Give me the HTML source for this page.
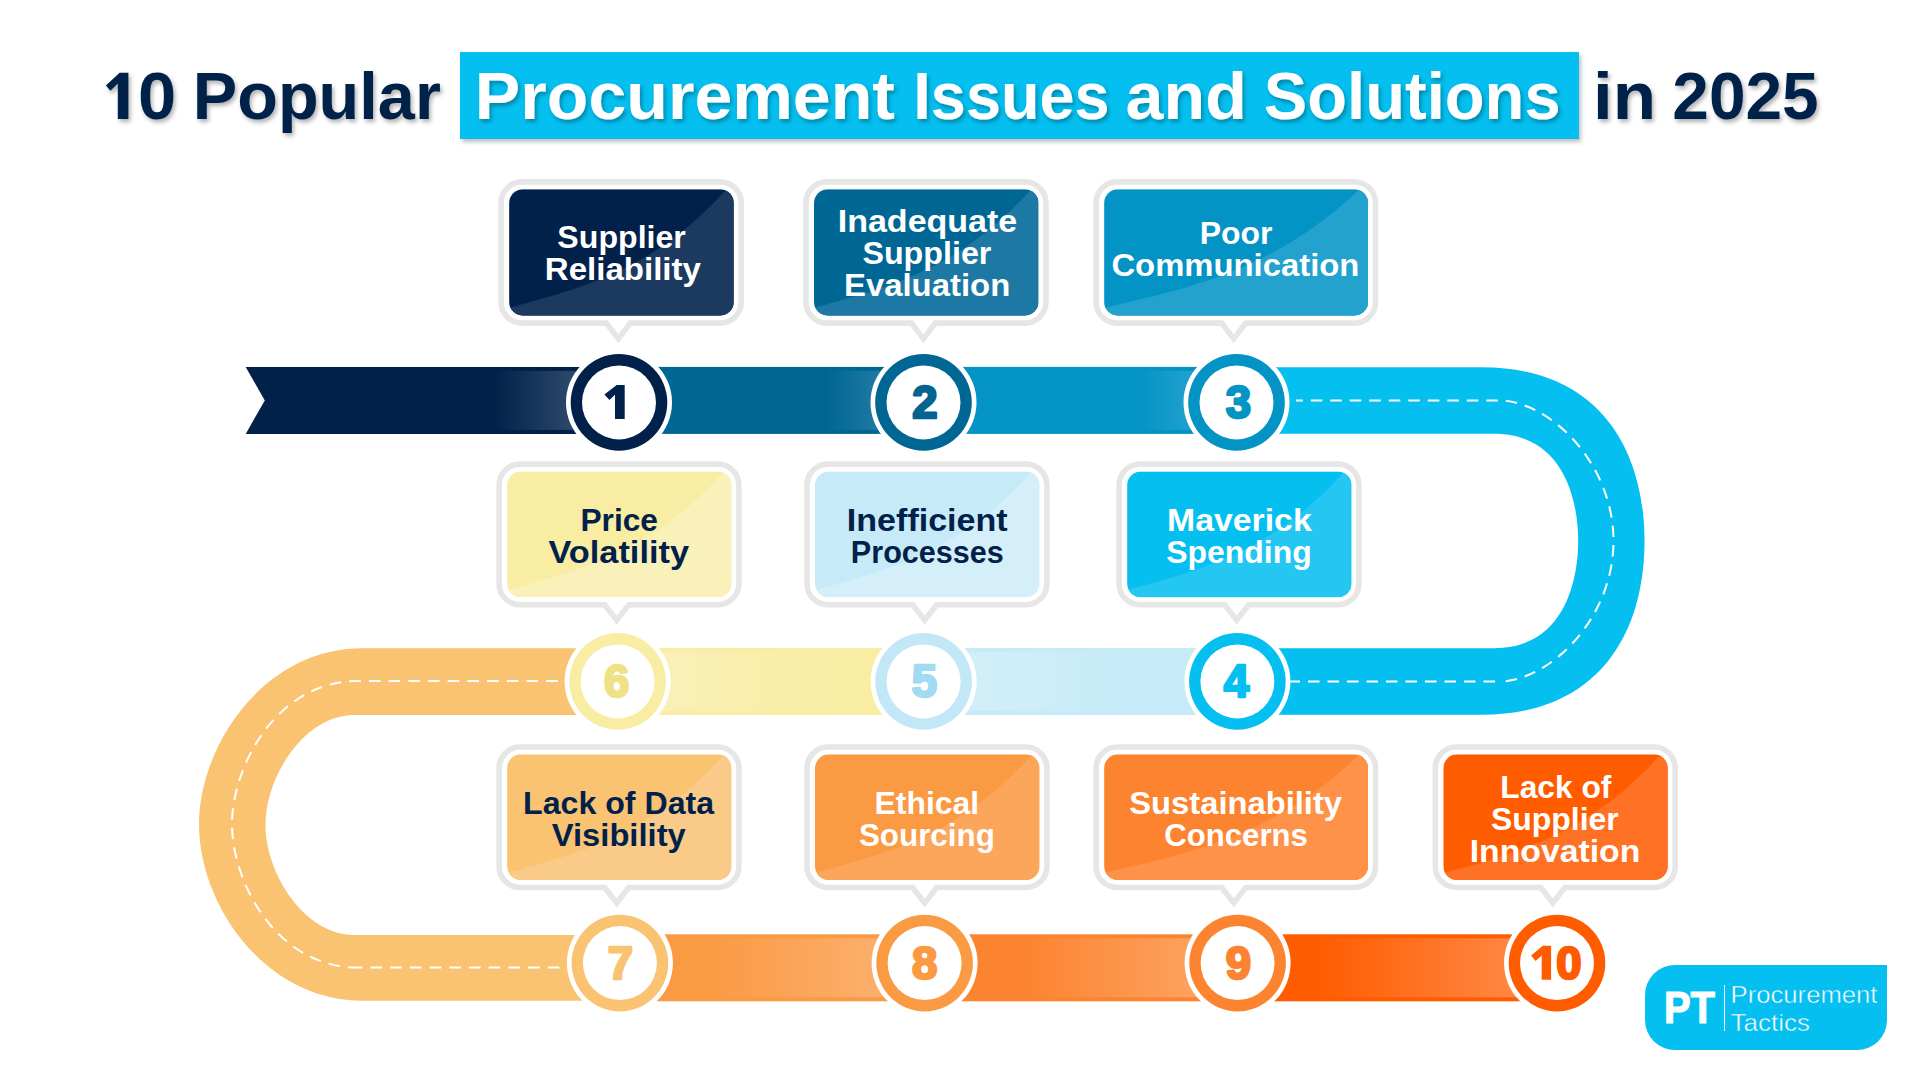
<!DOCTYPE html>
<html><head><meta charset="utf-8"><style>
html,body{margin:0;padding:0;width:1920px;height:1080px;overflow:hidden;background:#fff}
</style></head><body>
<div style="position:relative;width:1920px;height:1080px">
<svg width="1920" height="1080" viewBox="0 0 1920 1080" style="position:absolute;left:0;top:0;font-family:'Liberation Sans', sans-serif"><defs><linearGradient id="g1" x1="494" x2="570" y1="0" y2="0" gradientUnits="userSpaceOnUse"><stop offset="0" stop-color="#02214a"/><stop offset="1" stop-color="#2b4869"/></linearGradient><linearGradient id="g2" x1="827" x2="880" y1="0" y2="0" gradientUnits="userSpaceOnUse"><stop offset="0" stop-color="#006794"/><stop offset="1" stop-color="#2179a3"/></linearGradient><linearGradient id="g3" x1="1138" x2="1195" y1="0" y2="0" gradientUnits="userSpaceOnUse"><stop offset="0" stop-color="#0393c4"/><stop offset="1" stop-color="#22a2cf"/></linearGradient><linearGradient id="g6" x1="840" x2="660" y1="0" y2="0" gradientUnits="userSpaceOnUse"><stop offset="0" stop-color="#f9eca3"/><stop offset="1" stop-color="#faf0b8"/></linearGradient><linearGradient id="g5" x1="1135" x2="970" y1="0" y2="0" gradientUnits="userSpaceOnUse"><stop offset="0" stop-color="#c6eaf8"/><stop offset="1" stop-color="#d2eff9"/></linearGradient><linearGradient id="g8" x1="707" x2="880" y1="0" y2="0" gradientUnits="userSpaceOnUse"><stop offset="0" stop-color="#fa9a43"/><stop offset="1" stop-color="#fcaf6c"/></linearGradient><linearGradient id="g9" x1="1020" x2="1192" y1="0" y2="0" gradientUnits="userSpaceOnUse"><stop offset="0" stop-color="#fc832f"/><stop offset="1" stop-color="#fda15e"/></linearGradient><linearGradient id="g10" x1="1317" x2="1512" y1="0" y2="0" gradientUnits="userSpaceOnUse"><stop offset="0" stop-color="#ff5c00"/><stop offset="1" stop-color="#ff8642"/></linearGradient><clipPath id="cl1"><rect x="509.1" y="189.2" width="224.69999999999993" height="126.5" rx="14"/></clipPath><clipPath id="cl2"><rect x="814.0" y="189.2" width="224.5" height="126.5" rx="14"/></clipPath><clipPath id="cl3"><rect x="1104.1" y="189.2" width="264.0" height="126.5" rx="14"/></clipPath><clipPath id="cl6"><rect x="507.1" y="471.40000000000003" width="224.39999999999998" height="125.89999999999992" rx="14"/></clipPath><clipPath id="cl5"><rect x="815.0" y="471.40000000000003" width="224.5" height="125.89999999999992" rx="14"/></clipPath><clipPath id="cl4"><rect x="1127.1" y="471.40000000000003" width="224.4000000000001" height="125.89999999999992" rx="14"/></clipPath><clipPath id="cl7"><rect x="507.1" y="754.3000000000001" width="224.39999999999998" height="125.79999999999984" rx="14"/></clipPath><clipPath id="cl8"><rect x="815.0" y="754.3000000000001" width="224.5" height="125.79999999999984" rx="14"/></clipPath><clipPath id="cl9"><rect x="1104.1" y="754.3000000000001" width="264.0" height="125.79999999999984" rx="14"/></clipPath><clipPath id="cl10"><rect x="1443.3" y="754.3000000000001" width="224.5" height="125.79999999999984" rx="14"/></clipPath></defs><g><polygon points="245.7,366.9 650,366.9 650,433.9 245.7,433.9 264.8,400.4" fill="#02214a"/><rect x="640" y="366.9" width="300" height="67.0" fill="#006794"/><rect x="940" y="366.9" width="300" height="67.0" fill="#0393c4"/><path d="M1230,367.2 H1482 C1595.75,367.2 1644.5,445.4 1644.5,541 C1644.5,636.6 1595.75,714.8 1482,714.8 H1230 V648.2 H1494 C1565.6,648.2 1578.2,578.5 1578.2,541 C1578.2,503.5 1565.6,433.8 1494,433.8 H1230 Z" fill="#04bff0"/><rect x="920" y="648.0" width="320" height="67.0" fill="#c6eaf8"/><rect x="610" y="648.0" width="320" height="67.0" fill="#f9eca3"/><path d="M620,648.3 H362 C264.2,648.3 199,745.2 199,824.5 C199,903.8 264.2,1000.7 362,1000.7 H625 V935 H354 C305.3,935 265.5,874.5 265.5,825 C265.5,775.5 305.3,715 354,715 H620 Z" fill="#f9c372"/><rect x="620" y="934.3" width="310" height="67.0" fill="#fa9a43"/><rect x="920" y="934.3" width="320" height="67.0" fill="#fc832f"/><rect x="1230" y="934.3" width="330" height="67.0" fill="#ff5c00"/><rect x="494" y="370.9" width="125" height="59.0" fill="url(#g1)"/><rect x="827" y="370.9" width="96" height="59.0" fill="url(#g2)"/><rect x="1138" y="370.9" width="98" height="59.0" fill="url(#g3)"/><rect x="617" y="652.0" width="223" height="59.0" fill="url(#g6)"/><rect x="923" y="652.0" width="212" height="59.0" fill="url(#g5)"/><rect x="707" y="938.3" width="217" height="59.0" fill="url(#g8)"/><rect x="1020" y="938.3" width="217" height="59.0" fill="url(#g9)"/><rect x="1317" y="938.3" width="240" height="59.0" fill="url(#g10)"/><path d="M1296,400.4 H1498 C1550,400.4 1613.5,463.7 1613.5,541 C1613.5,618.3 1550,681.6 1498,681.6" fill="none" stroke="#fff" stroke-width="2" stroke-dasharray="11.5 8.0" stroke-dashoffset="4.7"/><path d="M1290.3,681.6 H1498" fill="none" stroke="#fff" stroke-width="2" stroke-dasharray="11.5 8.0" stroke-dashoffset="1.8"/><path d="M557.8,681 H358 C276.1,681 232,767 232,824.3 C232,881.6 276.1,967.6 358,967.6" fill="none" stroke="#fff" stroke-width="2" stroke-dasharray="11.6 8.1"/><path d="M559.4,967.6 H358" fill="none" stroke="#fff" stroke-width="2" stroke-dasharray="11.6 8.1"/></g><circle cx="619" cy="402.4" r="53" fill="#fff"/><circle cx="619" cy="402.4" r="48.3" fill="#02214a"/><circle cx="619" cy="402.4" r="37" fill="#fff"/><circle cx="923.5" cy="402.4" r="53" fill="#fff"/><circle cx="923.5" cy="402.4" r="48.3" fill="#006794"/><circle cx="923.5" cy="402.4" r="37" fill="#fff"/><circle cx="1236.5" cy="402.4" r="53" fill="#fff"/><circle cx="1236.5" cy="402.4" r="48.3" fill="#0393c4"/><circle cx="1236.5" cy="402.4" r="37" fill="#fff"/><circle cx="1237.4" cy="681.4" r="53" fill="#fff"/><circle cx="1237.4" cy="681.4" r="48.3" fill="#04bff0"/><circle cx="1237.4" cy="681.4" r="37" fill="#fff"/><circle cx="923.6" cy="681.4" r="53" fill="#fff"/><circle cx="923.6" cy="681.4" r="48.3" fill="#c2e8f8"/><circle cx="923.6" cy="681.4" r="37" fill="#fff"/><circle cx="617.6" cy="681.4" r="53" fill="#fff"/><circle cx="617.6" cy="681.4" r="48.3" fill="#f9eca3"/><circle cx="617.6" cy="681.4" r="37" fill="#fff"/><circle cx="619.9" cy="963.1" r="53" fill="#fff"/><circle cx="619.9" cy="963.1" r="48.3" fill="#f9c372"/><circle cx="619.9" cy="963.1" r="37" fill="#fff"/><circle cx="924.6" cy="963.1" r="53" fill="#fff"/><circle cx="924.6" cy="963.1" r="48.3" fill="#fa9a43"/><circle cx="924.6" cy="963.1" r="37" fill="#fff"/><circle cx="1237.6" cy="963.1" r="53" fill="#fff"/><circle cx="1237.6" cy="963.1" r="48.3" fill="#fc832f"/><circle cx="1237.6" cy="963.1" r="37" fill="#fff"/><circle cx="1557" cy="963.1" r="53" fill="#fff"/><circle cx="1557" cy="963.1" r="48.3" fill="#ff5c00"/><circle cx="1557" cy="963.1" r="37" fill="#fff"/><path d="M522.1,181.9 H720.2 A21,21 0 0 1 741.2,202.9 V302.09999999999997 A21,21 0 0 1 720.2,323.09999999999997 H630.3 L618.3,338.59999999999997 L606.3,323.09999999999997 H522.1 A21,21 0 0 1 501.1,302.09999999999997 V202.9 A21,21 0 0 1 522.1,181.9 Z" fill="#fff" stroke="#e6e6e6" stroke-width="5.6" stroke-miterlimit="10"/><g clip-path="url(#cl1)"><rect x="509.1" y="189.2" width="224.69999999999993" height="126.5" fill="#02214a"/><path d="M509.1,307.95 C584.0,287.2 658.9,269.4 733.8,180.8 V315.7 H509.1 Z" fill="#1c3a5f"/></g><text x="621.6" y="247.9" text-anchor="middle" font-size="32" font-weight="bold" fill="#fff" textLength="128.52" lengthAdjust="spacingAndGlyphs">Supplier</text><text x="622.85" y="279.6" text-anchor="middle" font-size="32" font-weight="bold" fill="#fff" textLength="156.16" lengthAdjust="spacingAndGlyphs">Reliability</text><path d="M827.0,181.9 H1024.9 A21,21 0 0 1 1045.9,202.9 V302.09999999999997 A21,21 0 0 1 1024.9,323.09999999999997 H935.4 L923.4,338.59999999999997 L911.4,323.09999999999997 H827.0 A21,21 0 0 1 806.0,302.09999999999997 V202.9 A21,21 0 0 1 827.0,181.9 Z" fill="#fff" stroke="#e6e6e6" stroke-width="5.6" stroke-miterlimit="10"/><g clip-path="url(#cl2)"><rect x="814.0" y="189.2" width="224.5" height="126.5" fill="#006794"/><path d="M814.0,307.95 C888.8,287.2 963.7,269.4 1038.5,180.8 V315.7 H814.0 Z" fill="#1d79a3"/></g><text x="927.5" y="231.7" text-anchor="middle" font-size="32" font-weight="bold" fill="#fff" textLength="179.58" lengthAdjust="spacingAndGlyphs">Inadequate</text><text x="926.9" y="264.2" text-anchor="middle" font-size="32" font-weight="bold" fill="#fff" textLength="128.93" lengthAdjust="spacingAndGlyphs">Supplier</text><text x="927.1" y="295.8" text-anchor="middle" font-size="32" font-weight="bold" fill="#fff" textLength="166.23" lengthAdjust="spacingAndGlyphs">Evaluation</text><path d="M1117.1,181.9 H1354.5 A21,21 0 0 1 1375.5,202.9 V302.09999999999997 A21,21 0 0 1 1354.5,323.09999999999997 H1245.7 L1233.7,338.59999999999997 L1221.7,323.09999999999997 H1117.1 A21,21 0 0 1 1096.1,302.09999999999997 V202.9 A21,21 0 0 1 1117.1,181.9 Z" fill="#fff" stroke="#e6e6e6" stroke-width="5.6" stroke-miterlimit="10"/><g clip-path="url(#cl3)"><rect x="1104.1" y="189.2" width="264.0" height="126.5" fill="#0393c4"/><path d="M1104.1,307.95 C1192.1,287.2 1280.1,269.4 1368.1,180.8 V315.7 H1104.1 Z" fill="#22a2cd"/></g><text x="1236.15" y="243.7" text-anchor="middle" font-size="32" font-weight="bold" fill="#fff" textLength="72.72" lengthAdjust="spacingAndGlyphs">Poor</text><text x="1235.4" y="275.9" text-anchor="middle" font-size="32" font-weight="bold" fill="#fff" textLength="247.93" lengthAdjust="spacingAndGlyphs">Communication</text><path d="M520.1,464.1 H717.9000000000001 A21,21 0 0 1 738.9000000000001,485.1 V583.7 A21,21 0 0 1 717.9000000000001,604.7 H628.7 L616.7,620.2 L604.7,604.7 H520.1 A21,21 0 0 1 499.1,583.7 V485.1 A21,21 0 0 1 520.1,464.1 Z" fill="#fff" stroke="#e6e6e6" stroke-width="5.6" stroke-miterlimit="10"/><g clip-path="url(#cl6)"><rect x="507.1" y="471.40000000000003" width="224.39999999999998" height="125.89999999999992" fill="#f9eca3"/><path d="M507.1,590.1500000000001 C581.9,569.4 656.7,551.6 731.5,463.0 V597.3 H507.1 Z" fill="#f9f1b9"/></g><text x="619.2" y="531.3" text-anchor="middle" font-size="32" font-weight="bold" fill="#02214a" textLength="77.60" lengthAdjust="spacingAndGlyphs">Price</text><text x="618.75" y="563.3" text-anchor="middle" font-size="32" font-weight="bold" fill="#02214a" textLength="140.60" lengthAdjust="spacingAndGlyphs">Volatility</text><path d="M828.0,464.1 H1025.9 A21,21 0 0 1 1046.9,485.1 V583.7 A21,21 0 0 1 1025.9,604.7 H936.7 L924.7,620.2 L912.7,604.7 H828.0 A21,21 0 0 1 807.0,583.7 V485.1 A21,21 0 0 1 828.0,464.1 Z" fill="#fff" stroke="#e6e6e6" stroke-width="5.6" stroke-miterlimit="10"/><g clip-path="url(#cl5)"><rect x="815.0" y="471.40000000000003" width="224.5" height="125.89999999999992" fill="#c6eaf8"/><path d="M815.0,590.1500000000001 C889.8,569.4 964.7,551.6 1039.5,463.0 V597.3 H815.0 Z" fill="#d4eff9"/></g><text x="927.25" y="531.3" text-anchor="middle" font-size="32" font-weight="bold" fill="#02214a" textLength="160.84" lengthAdjust="spacingAndGlyphs">Inefficient</text><text x="927.35" y="563.3" text-anchor="middle" font-size="32" font-weight="bold" fill="#02214a" textLength="152.98" lengthAdjust="spacingAndGlyphs">Processes</text><path d="M1140.1,464.1 H1337.9 A21,21 0 0 1 1358.9,485.1 V583.7 A21,21 0 0 1 1337.9,604.7 H1248.7 L1236.7,620.2 L1224.7,604.7 H1140.1 A21,21 0 0 1 1119.1,583.7 V485.1 A21,21 0 0 1 1140.1,464.1 Z" fill="#fff" stroke="#e6e6e6" stroke-width="5.6" stroke-miterlimit="10"/><g clip-path="url(#cl4)"><rect x="1127.1" y="471.40000000000003" width="224.4000000000001" height="125.89999999999992" fill="#04bff0"/><path d="M1127.1,590.1500000000001 C1201.9,569.4 1276.7,551.6 1351.5,463.0 V597.3 H1127.1 Z" fill="#24c6f2"/></g><text x="1239.35" y="531.3" text-anchor="middle" font-size="32" font-weight="bold" fill="#fff" textLength="144.66" lengthAdjust="spacingAndGlyphs">Maverick</text><text x="1239.0" y="563.3" text-anchor="middle" font-size="32" font-weight="bold" fill="#fff" textLength="145.37" lengthAdjust="spacingAndGlyphs">Spending</text><path d="M520.1,747.0 H717.9000000000001 A21,21 0 0 1 738.9000000000001,768.0 V866.5 A21,21 0 0 1 717.9000000000001,887.5 H628.7 L616.7,903.0 L604.7,887.5 H520.1 A21,21 0 0 1 499.1,866.5 V768.0 A21,21 0 0 1 520.1,747.0 Z" fill="#fff" stroke="#e6e6e6" stroke-width="5.6" stroke-miterlimit="10"/><g clip-path="url(#cl7)"><rect x="507.1" y="754.3000000000001" width="224.39999999999998" height="125.79999999999984" fill="#f9c372"/><path d="M507.1,873.0500000000001 C581.9,852.3 656.7,834.5 731.5,745.9 V880.0999999999999 H507.1 Z" fill="#facb88"/></g><text x="618.6" y="813.8" text-anchor="middle" font-size="32" font-weight="bold" fill="#02214a" textLength="191.11" lengthAdjust="spacingAndGlyphs">Lack of Data</text><text x="618.75" y="845.8" text-anchor="middle" font-size="32" font-weight="bold" fill="#02214a" textLength="134.00" lengthAdjust="spacingAndGlyphs">Visibility</text><path d="M828.0,747.0 H1025.9 A21,21 0 0 1 1046.9,768.0 V866.5 A21,21 0 0 1 1025.9,887.5 H936.7 L924.7,903.0 L912.7,887.5 H828.0 A21,21 0 0 1 807.0,866.5 V768.0 A21,21 0 0 1 828.0,747.0 Z" fill="#fff" stroke="#e6e6e6" stroke-width="5.6" stroke-miterlimit="10"/><g clip-path="url(#cl8)"><rect x="815.0" y="754.3000000000001" width="224.5" height="125.79999999999984" fill="#fa9a43"/><path d="M815.0,873.0500000000001 C889.8,852.3 964.7,834.5 1039.5,745.9 V880.0999999999999 H815.0 Z" fill="#fba65b"/></g><text x="926.85" y="813.8" text-anchor="middle" font-size="32" font-weight="bold" fill="#fff" textLength="104.53" lengthAdjust="spacingAndGlyphs">Ethical</text><text x="926.9" y="845.8" text-anchor="middle" font-size="32" font-weight="bold" fill="#fff" textLength="135.96" lengthAdjust="spacingAndGlyphs">Sourcing</text><path d="M1117.1,747.0 H1354.5 A21,21 0 0 1 1375.5,768.0 V866.5 A21,21 0 0 1 1354.5,887.5 H1245.7 L1233.7,903.0 L1221.7,887.5 H1117.1 A21,21 0 0 1 1096.1,866.5 V768.0 A21,21 0 0 1 1117.1,747.0 Z" fill="#fff" stroke="#e6e6e6" stroke-width="5.6" stroke-miterlimit="10"/><g clip-path="url(#cl9)"><rect x="1104.1" y="754.3000000000001" width="264.0" height="125.79999999999984" fill="#fc832f"/><path d="M1104.1,873.0500000000001 C1192.1,852.3 1280.1,834.5 1368.1,745.9 V880.0999999999999 H1104.1 Z" fill="#fd9248"/></g><text x="1235.65" y="813.8" text-anchor="middle" font-size="32" font-weight="bold" fill="#fff" textLength="212.80" lengthAdjust="spacingAndGlyphs">Sustainability</text><text x="1236.05" y="845.8" text-anchor="middle" font-size="32" font-weight="bold" fill="#fff" textLength="143.53" lengthAdjust="spacingAndGlyphs">Concerns</text><path d="M1456.3,747.0 H1654.2 A21,21 0 0 1 1675.2,768.0 V866.5 A21,21 0 0 1 1654.2,887.5 H1564.8 L1552.8,903.0 L1540.8,887.5 H1456.3 A21,21 0 0 1 1435.3,866.5 V768.0 A21,21 0 0 1 1456.3,747.0 Z" fill="#fff" stroke="#e6e6e6" stroke-width="5.6" stroke-miterlimit="10"/><g clip-path="url(#cl10)"><rect x="1443.3" y="754.3000000000001" width="224.5" height="125.79999999999984" fill="#ff5c00"/><path d="M1443.3,873.0500000000001 C1518.1,852.3 1593.0,834.5 1667.8,745.9 V880.0999999999999 H1443.3 Z" fill="#ff7124"/></g><text x="1555.85" y="798" text-anchor="middle" font-size="32" font-weight="bold" fill="#fff" textLength="111.13" lengthAdjust="spacingAndGlyphs">Lack of</text><text x="1554.85" y="830" text-anchor="middle" font-size="32" font-weight="bold" fill="#fff" textLength="127.80" lengthAdjust="spacingAndGlyphs">Supplier</text><text x="1555.0" y="861.7" text-anchor="middle" font-size="32" font-weight="bold" fill="#fff" textLength="170.62" lengthAdjust="spacingAndGlyphs">Innovation</text><path d="M616.7,385 H624.7 V418.9 H615 V394.8 L609.4,400 L604.4,394.4 Z" fill="#02214a"/><text x="924.8" y="418.0" text-anchor="middle" font-size="45.5" font-weight="bold" fill="#02648f" stroke="#02648f" stroke-width="2.6" stroke-linejoin="round">2</text><text x="1238.3" y="418.0" text-anchor="middle" font-size="45.5" font-weight="bold" fill="#0393c4" stroke="#0393c4" stroke-width="2.6" stroke-linejoin="round">3</text><text x="1236.4" y="697.0" text-anchor="middle" font-size="45.5" font-weight="bold" fill="#04bff0" stroke="#04bff0" stroke-width="2.6" stroke-linejoin="round">4</text><text x="924.5" y="697.0" text-anchor="middle" font-size="45.5" font-weight="bold" fill="#a2daf1" stroke="#a2daf1" stroke-width="2.6" stroke-linejoin="round">5</text><text x="616.6" y="697.0" text-anchor="middle" font-size="45.5" font-weight="bold" fill="#f1e185" stroke="#f1e185" stroke-width="2.6" stroke-linejoin="round">6</text><text x="620.4" y="978.7" text-anchor="middle" font-size="45.5" font-weight="bold" fill="#f9c372" stroke="#f9c372" stroke-width="2.6" stroke-linejoin="round">7</text><text x="924.6" y="978.7" text-anchor="middle" font-size="45.5" font-weight="bold" fill="#fa9a43" stroke="#fa9a43" stroke-width="2.6" stroke-linejoin="round">8</text><text x="1238.35" y="978.7" text-anchor="middle" font-size="45.5" font-weight="bold" fill="#fc832f" stroke="#fc832f" stroke-width="2.6" stroke-linejoin="round">9</text><path d="M1542.8,945.8 H1551.1 V979.8 H1541.7 V955.6 L1535.6,960.9 L1531.1,955.6 Z" fill="#ff5c00"/><text x="1568.9" y="978.7" text-anchor="middle" font-size="45.5" font-weight="bold" fill="#ff5c00" stroke="#ff5c00" stroke-width="2.6" stroke-linejoin="round">0</text></svg>

<div style="position:absolute;left:460px;top:52px;width:1119px;height:87px;background:#04bff0;box-shadow:2px 3px 4px rgba(0,0,0,0.25)"></div>
<svg width="1920" height="160" style="position:absolute;left:0;top:0;font-family:'Liberation Sans', sans-serif;overflow:visible">
<defs><filter id="ts" x="-5%" y="-20%" width="110%" height="150%"><feDropShadow dx="2" dy="3" stdDeviation="2" flood-color="#000" flood-opacity="0.3"/></filter></defs>
<g filter="url(#ts)" font-weight="bold" font-size="67">
<path d="M119.6,72.7 H128.4 V119 H117.8 V83.5 L110.4,90.7 L105.9,85.6 Z" fill="#02214a"/>
<text x="157.00" y="119" text-anchor="middle" fill="#02214a" textLength="38.19" lengthAdjust="spacingAndGlyphs">0</text><text x="316.80" y="119" text-anchor="middle" fill="#02214a" textLength="248.03" lengthAdjust="spacingAndGlyphs">Popular</text><text x="684.95" y="119" text-anchor="middle" fill="#fff" textLength="420.13" lengthAdjust="spacingAndGlyphs">Procurement</text><text x="1011.50" y="119" text-anchor="middle" fill="#fff" textLength="196.35" lengthAdjust="spacingAndGlyphs">Issues</text><text x="1186.20" y="119" text-anchor="middle" fill="#fff" textLength="121.27" lengthAdjust="spacingAndGlyphs">and</text><text x="1412.20" y="119" text-anchor="middle" fill="#fff" textLength="296.89" lengthAdjust="spacingAndGlyphs">Solutions</text><text x="1624.65" y="119" text-anchor="middle" fill="#02214a" textLength="63.09" lengthAdjust="spacingAndGlyphs">in</text><text x="1745.50" y="119" text-anchor="middle" fill="#02214a" textLength="146.27" lengthAdjust="spacingAndGlyphs">2025</text>
</g></svg>


<div style="position:absolute;left:1645px;top:965px;width:242px;height:85px;background:#04bff0;border-radius:30px 0 30px 30px"></div>
<svg width="1920" height="1080" style="position:absolute;left:0;top:0;font-family:'Liberation Sans', sans-serif">
<text x="1664" y="1023" fill="#fff" font-size="45" font-weight="bold" stroke="#fff" stroke-width="1.2" textLength="51" lengthAdjust="spacingAndGlyphs">PT</text>
<rect x="1724" y="985" width="1" height="46" fill="#fff"/>
<text x="1730.5" y="1002.8" fill="#fff" stroke="#04bff0" stroke-width="0.5" font-size="23.8" textLength="147" lengthAdjust="spacingAndGlyphs">Procurement</text>
<text x="1730.5" y="1031.4" fill="#fff" stroke="#04bff0" stroke-width="0.5" font-size="23.8" textLength="79.5" lengthAdjust="spacingAndGlyphs">Tactics</text>
</svg>

</div></body></html>
